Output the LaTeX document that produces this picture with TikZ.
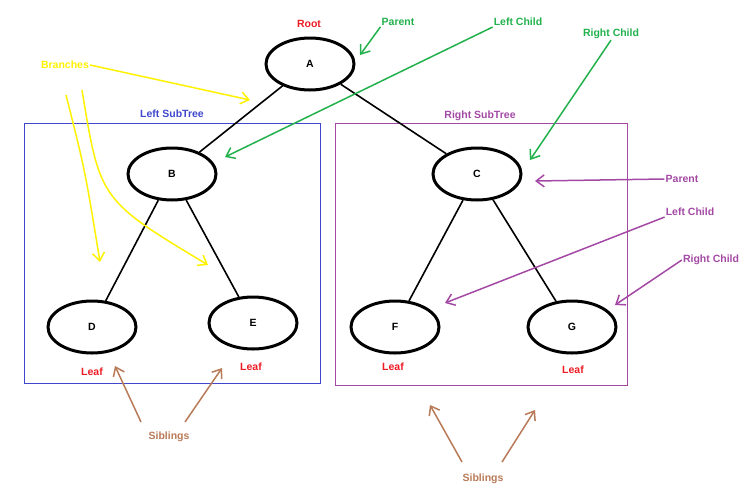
\documentclass[tikz,border=0pt]{standalone}
\usepackage{fontspec}
\setmainfont{Liberation Sans}
\usetikzlibrary{arrows.meta,shapes.geometric}
\begin{document}
\begin{tikzpicture}[x=1pt,y=-1pt,font=\bfseries\fontsize{10.5}{12}\selectfont,
 nd/.style={draw,ellipse,line width=3pt,minimum width=88pt,minimum height=52pt,inner sep=0pt},
 ed/.style={line width=1.6pt},
 ar/.style={line width=1.5pt,-{Straight Barb[length=8pt,width=12pt]}},
 lb/.style={inner sep=1pt}]
\useasboundingbox (0,0) rectangle (754,498);
\definecolor{gr}{RGB}{34,177,76}
\definecolor{yl}{RGB}{255,242,0}
\definecolor{pu}{RGB}{163,73,164}
\definecolor{bl}{RGB}{63,72,204}
\definecolor{rd}{RGB}{237,28,36}
\definecolor{br}{RGB}{185,122,87}
\draw[bl] (24,123) rectangle (320,383);
\draw[pu] (335,123) rectangle (627,385);
\node[nd] (A) at (310,64) {A};
\node[nd] (B) at (172,174) {B};
\node[nd] (C) at (477,174) {C};
\node[nd] (D) at (92,327) {D};
\node[nd] (E) at (253,323) {E};
\node[nd] (F) at (395,327) {F};
\node[nd] (G) at (572,327) {G};
\draw[ed] (A)--(B); \draw[ed] (A)--(C);
\draw[ed] (B)--(D); \draw[ed] (B)--(E);
\draw[ed] (C)--(F); \draw[ed] (C)--(G);
\node[lb,rd] (root) at (309,24) {Root};
\node[lb,gr] (p1) at (398,22) {Parent};
\node[lb,gr] (lc1) at (518,22) {Left Child};
\node[lb,gr] (rc1) at (611,34) {Right Child};
\node[lb,yl] (br1) at (65,65) {Branches};
\node[lb,bl] (ls) at (172,114) {Left SubTree};
\node[lb,pu] (rs) at (480,116) {Right SubTree};
\node[lb,pu] (p2) at (682,179) {Parent};
\node[lb,pu] (lc2) at (690,212) {Left Child};
\node[lb,pu] (rc2) at (711,260) {Right Child};
\node[lb,rd] (l1) at (92,372) {Leaf};
\node[lb,rd] (l2) at (251,367) {Leaf};
\node[lb,rd] (l3) at (393,367) {Leaf};
\node[lb,rd] (l4) at (573,370) {Leaf};
\node[lb,br] (s1) at (169,437) {Siblings};
\node[lb,br] (s2) at (483,479) {Siblings};
\coordinate (ga) at (360,55); \coordinate (gb) at (225,157); \coordinate (gc) at (530,160);
\draw[ar,gr] (p1.south west)--(ga);
\draw[ar,gr] (lc1.south west)--(gb);
\draw[ar,gr] (rc1.south)--(gc);
\coordinate (ya) at (250,100); \coordinate (yb) at (100,262); \coordinate (yc) at (208,265);
\draw[ar,yl] (br1.east)--(ya);
\draw[ar,yl] (66,95) .. controls (85,170) .. (yb);
\draw[ar,yl] (82,90) .. controls (100,200) .. (yc);
\coordinate (pa) at (535,181); \coordinate (pb) at (445,303); \coordinate (pc) at (615,305);
\draw[ar,pu] (p2.west)--(pa);
\draw[ar,pu] (lc2.south west)--(pb);
\draw[ar,pu] (rc2.west)--(pc);
\coordinate (ba) at (115,366); \coordinate (bb) at (222,368); \coordinate (bc) at (430,405); \coordinate (bd) at (535,410);
\draw[ar,br] (141,422)--(ba);
\draw[ar,br] (185,422)--(bb);
\draw[ar,br] (462,462)--(bc);
\draw[ar,br] (502,462)--(bd);
\end{tikzpicture}
\end{document}
